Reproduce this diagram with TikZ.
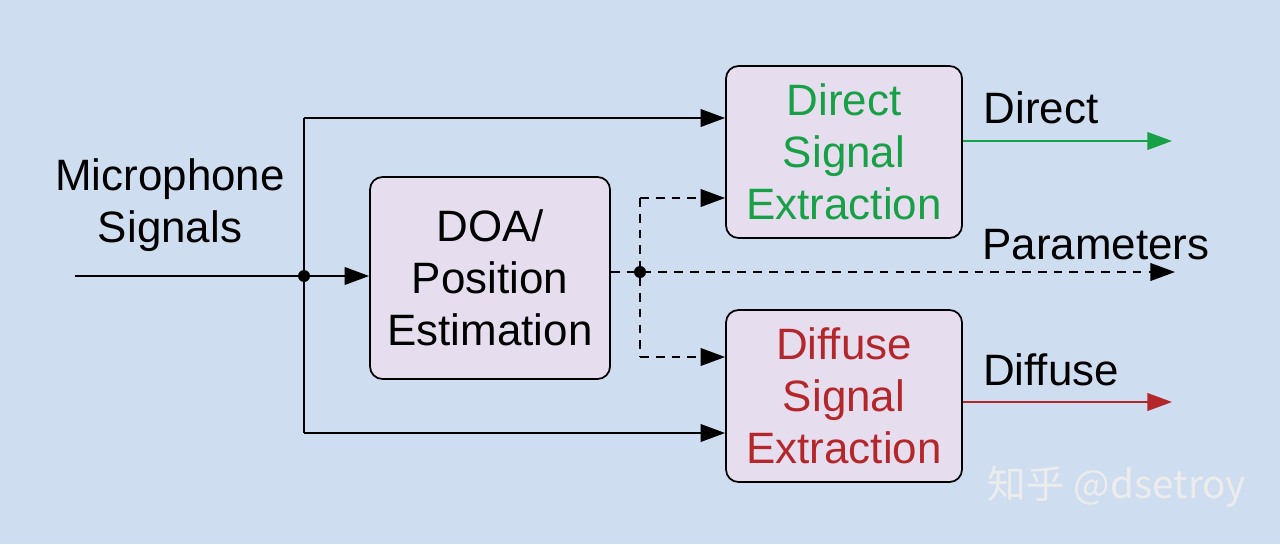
\documentclass[tikz,border=0pt]{standalone}
\usepackage{fontspec}
\setmainfont{Liberation Sans}
\newfontfamily\cjk{Noto Sans CJK SC}
\usetikzlibrary{arrows.meta,positioning,calc}
\definecolor{bgblue}{HTML}{CFDDF0}
\definecolor{boxfill}{HTML}{E6DEEF}
\definecolor{dirgreen}{HTML}{17A045}
\definecolor{difred}{HTML}{B3272B}
\tikzstyle{block} = [draw, rectangle, rounded corners=0.25cm, align=center, line width=1pt, fill=boxfill, text=black, font=\fontsize{25}{29.5}\selectfont, inner sep=0pt]
\tikzstyle{lbl} = [align=center, font=\fontsize{25}{29.5}\selectfont]
\tikzstyle{arr} = [draw, line width=1.2pt, -{Triangle[length=14pt,width=10pt]}]
\tikzstyle{darr} = [arr, dash pattern=on 5pt off 4pt]

\begin{document}
\begin{tikzpicture}[x=0.02cm,y=-0.02cm]
    \fill[bgblue] (0,0) rectangle (1280,544);
    \useasboundingbox (0,0) rectangle (1280,544);

    \node [block, minimum width=240*0.02cm, minimum height=202*0.02cm] (doa) at (490,278) {DOA/\\Position\\Estimation};
    \node [block, minimum width=236*0.02cm, minimum height=172*0.02cm, text=dirgreen] (dir) at (844,152) {Direct\\Signal\\Extraction};
    \node [block, minimum width=236*0.02cm, minimum height=172*0.02cm, text=difred] (dif) at (844,396) {Diffuse\\Signal\\Extraction};

    \node [lbl] (mic) at (170,205) {Microphone\\Signals};
    \node [lbl] (ldir) at (1041,108) {Direct};
    \node [lbl] (lpar) at (1096,245) {Parameters};
    \node [lbl] (ldif) at (1051,370) {Diffuse};
    \node [font=\cjk\fontsize{22}{26}\selectfont, text=white!85!gray] (wm) at (1117,487) {知乎 @dsetroy};

    \coordinate (in) at (75,276);
    \coordinate (j1) at (304,276);
    \coordinate (j1u) at (304,118);
    \coordinate (j1d) at (304,433);
    \coordinate (j2) at (640,272);
    \coordinate (j2u) at (640,198);
    \coordinate (j2d) at (640,357);
    \coordinate (pout) at (1175,272);
    \coordinate (dout) at (1172,141);
    \coordinate (fout) at (1172,402);

    \draw [line width=1.2pt] (in) -- (j1);
    \draw [arr] (j1) -- (doa.west |- j1);
    \draw [line width=1.2pt] (j1u) -- (j1d);
    \draw [arr] (j1u) -- (dir.west |- j1u);
    \draw [arr] (j1d) -- (dif.west |- j1d);
    \fill (j1) circle (6);

    \draw [darr] (doa.east |- j2) -- (pout);
    \draw [line width=1.2pt, dash pattern=on 5pt off 4pt] (j2u) -- (j2d);
    \draw [darr] (j2u) -- (dir.west |- j2u);
    \draw [darr] (j2d) -- (dif.west |- j2d);
    \fill (j2) circle (6);

    \draw [arr, dirgreen] (dir.east |- dout) -- (dout);
    \draw [arr, difred] (dif.east |- fout) -- (fout);
\end{tikzpicture}
\end{document}
